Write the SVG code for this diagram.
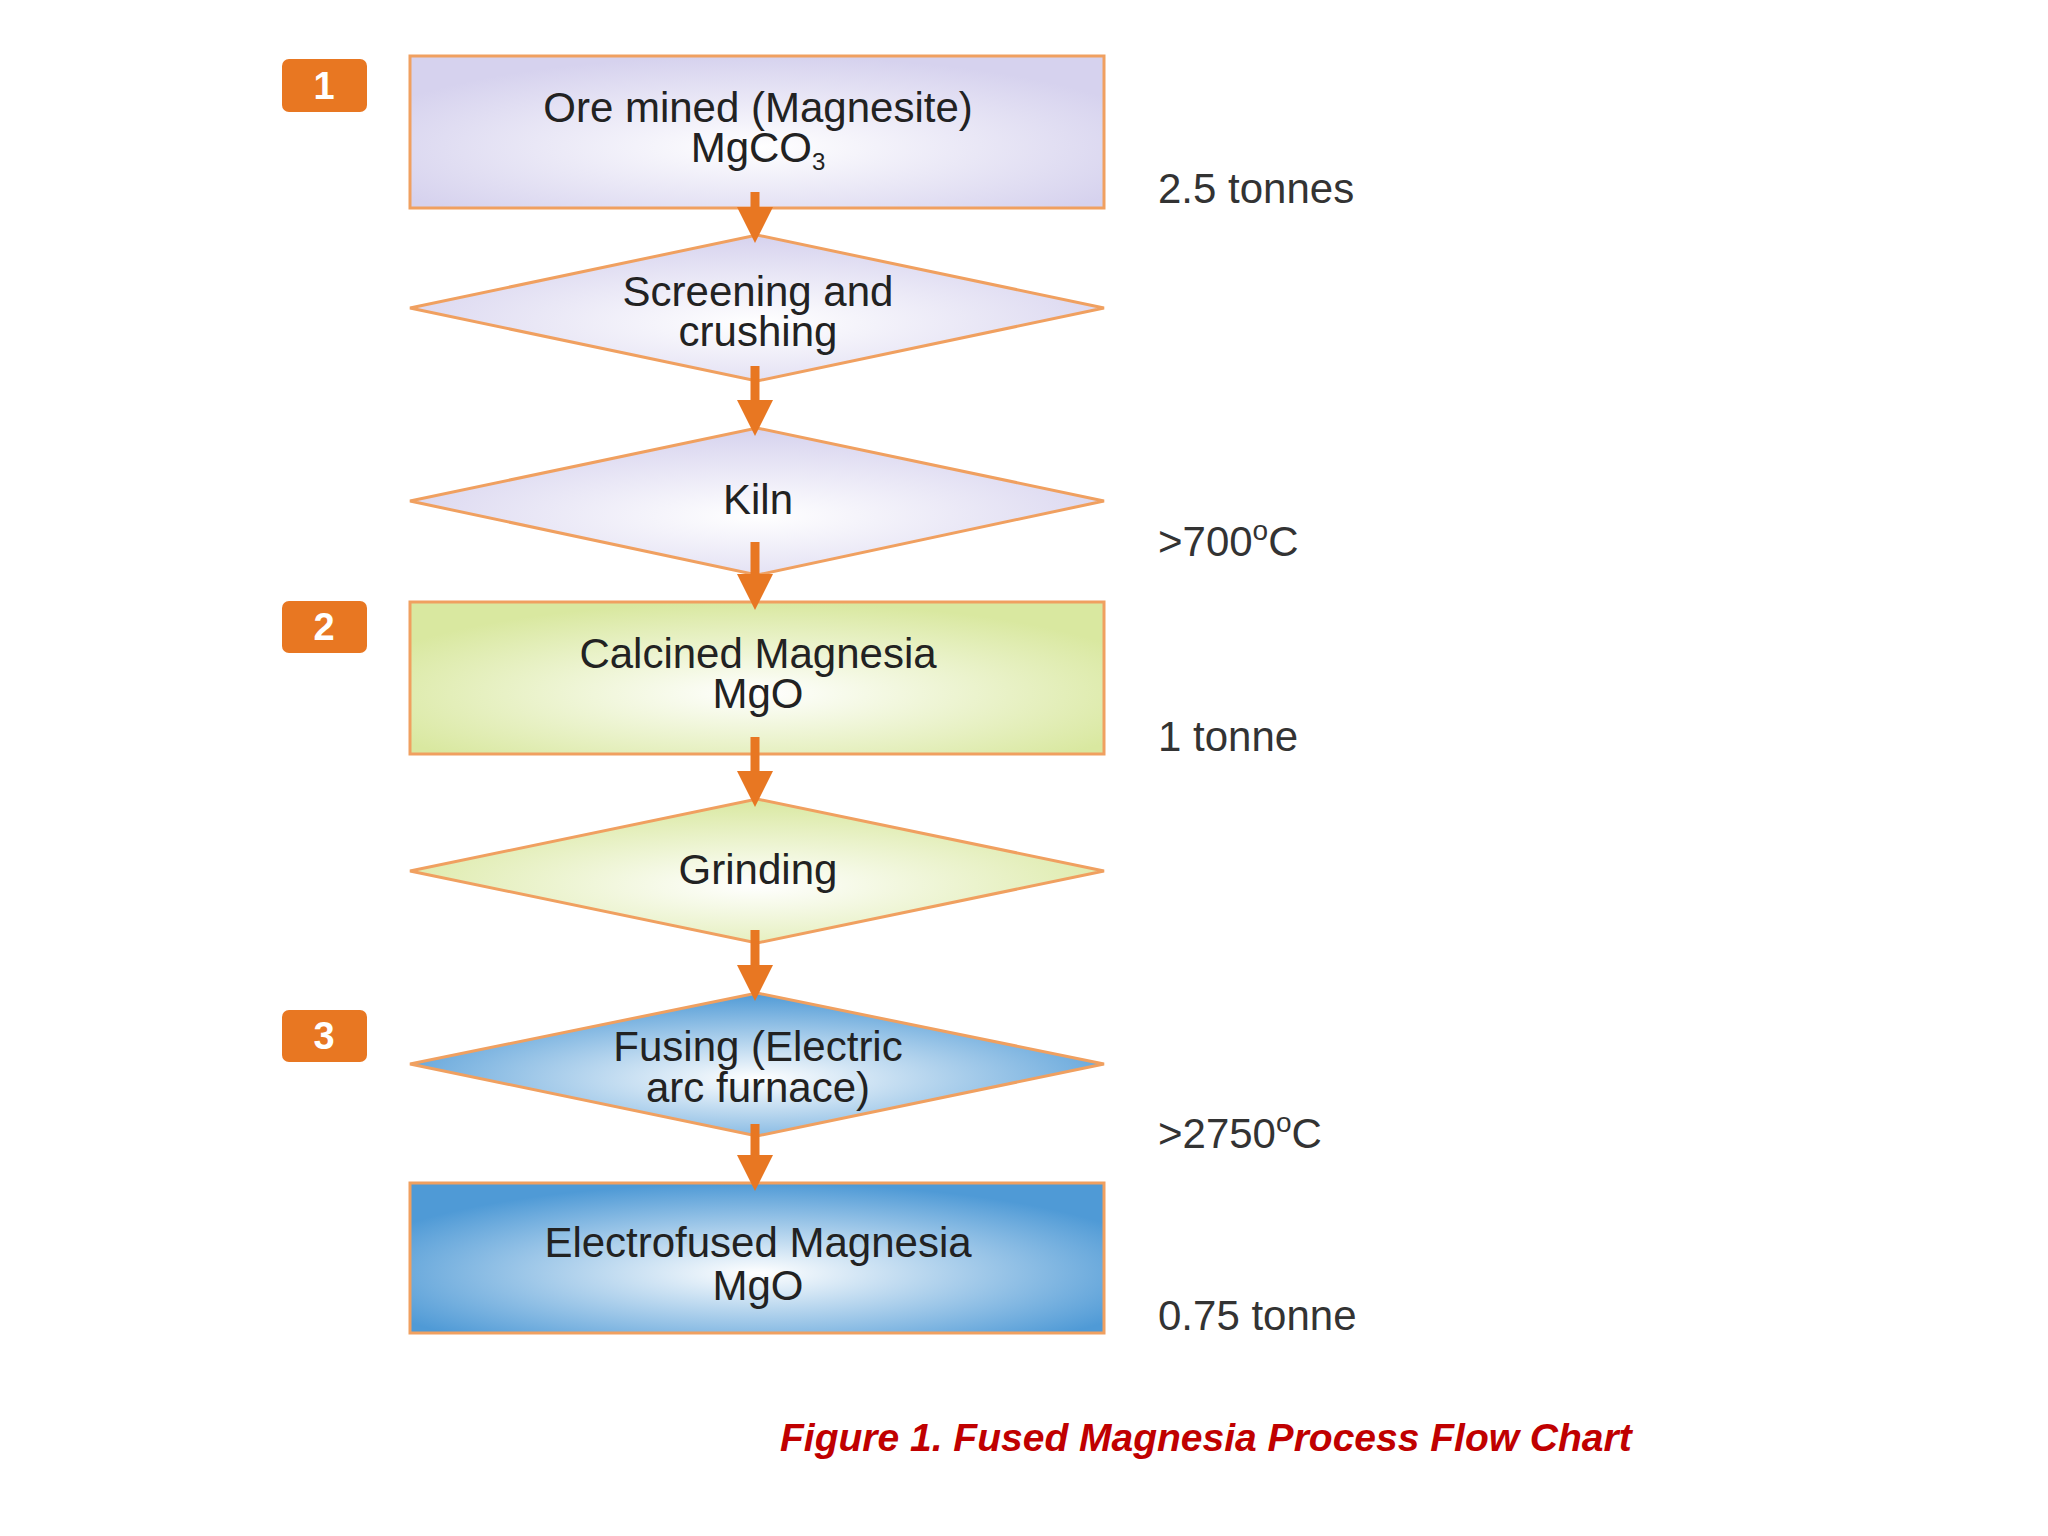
<svg xmlns="http://www.w3.org/2000/svg" width="2048" height="1536" viewBox="0 0 2048 1536">
<defs>
<radialGradient id="gP" cx="50%" cy="60%" r="60%"><stop offset="0" stop-color="#ffffff"/><stop offset="1" stop-color="#d6d2ee"/></radialGradient>
<radialGradient id="gG" cx="50%" cy="60%" r="60%"><stop offset="0" stop-color="#ffffff"/><stop offset="1" stop-color="#d9e8a0"/></radialGradient>
<radialGradient id="gB" cx="50%" cy="60%" r="60%"><stop offset="0" stop-color="#ffffff"/><stop offset="1" stop-color="#4f9ad6"/></radialGradient>
<marker id="ah" markerWidth="4" markerHeight="4" refX="2" refY="2" orient="auto" markerUnits="strokeWidth"><path d="M0,0 L4,2 L0,4 z" fill="#e87722"/></marker>
</defs>
<style>
.n{stroke:#f0a060;stroke-width:3}
.t{font-family:"Liberation Sans",Arial,sans-serif;font-size:42px;fill:#222;text-anchor:middle}
.r{font-family:"Liberation Sans",Arial,sans-serif;font-size:42px;fill:#333}
.b{fill:#e87722}
.bt{font-family:"Liberation Sans",Arial,sans-serif;font-size:38px;font-weight:bold;fill:#fff;text-anchor:middle}
.c{stroke:#e87722;stroke-width:9;fill:none;marker-end:url(#ah)}
</style>
<rect width="2048" height="1536" fill="#fff"/>
<g id="badge1"><rect class="b" x="282" y="59" width="85" height="53" rx="7"/><text class="bt" x="324" y="99">1</text></g>
<g id="badge2"><rect class="b" x="282" y="601" width="85" height="52" rx="7"/><text class="bt" x="324" y="640">2</text></g>
<g id="badge3"><rect class="b" x="282" y="1010" width="85" height="52" rx="7"/><text class="bt" x="324" y="1049">3</text></g>
<g id="ore"><rect class="n" x="410" y="56" width="694" height="152" fill="url(#gP)"/><text class="t" x="758" y="122">Ore mined (Magnesite)</text><text class="t" x="758" y="162">MgCO<tspan font-size="24" dy="8">3</tspan></text></g>
<g id="screen"><polygon class="n" points="410,308 757,235 1104,308 757,381" fill="url(#gP)"/><text class="t" x="758" y="306">Screening and</text><text class="t" x="758" y="346">crushing</text></g>
<g id="kiln"><polygon class="n" points="410,501 757,428 1104,501 757,575" fill="url(#gP)"/><text class="t" x="758" y="514">Kiln</text></g>
<g id="calcined"><rect class="n" x="410" y="602" width="694" height="152" fill="url(#gG)"/><text class="t" x="758" y="668">Calcined Magnesia</text><text class="t" x="758" y="708">MgO</text></g>
<g id="grinding"><polygon class="n" points="410,871 757,799 1104,871 757,943" fill="url(#gG)"/><text class="t" x="758" y="884">Grinding</text></g>
<g id="fusing"><polygon class="n" points="410,1064 757,993 1104,1064 757,1136" fill="url(#gB)"/><text class="t" x="758" y="1061">Fusing (Electric</text><text class="t" x="758" y="1102">arc furnace)</text></g>
<g id="electro"><rect class="n" x="410" y="1183" width="694" height="150" fill="url(#gB)"/><text class="t" x="758" y="1257">Electrofused Magnesia</text><text class="t" x="758" y="1300">MgO</text></g>
<g id="connectors">
<line class="c" x1="755" y1="192" x2="755" y2="225"/>
<line class="c" x1="755" y1="366" x2="755" y2="418"/>
<line class="c" x1="755" y1="542" x2="755" y2="592"/>
<line class="c" x1="755" y1="737" x2="755" y2="789"/>
<line class="c" x1="755" y1="930" x2="755" y2="983"/>
<line class="c" x1="755" y1="1124" x2="755" y2="1173"/>
</g>
<g id="labels">
<text class="r" x="1158" y="203">2.5 tonnes</text>
<text class="r" x="1158" y="556">&gt;700<tspan font-size="28" dy="-16">o</tspan><tspan dy="16">C</tspan></text>
<text class="r" x="1158" y="751">1 tonne</text>
<text class="r" x="1158" y="1148">&gt;2750<tspan font-size="28" dy="-16">o</tspan><tspan dy="16">C</tspan></text>
<text class="r" x="1158" y="1330">0.75 tonne</text>
<text x="780" y="1451" font-family="Liberation Sans,Arial,sans-serif" font-size="39" font-weight="bold" font-style="italic" fill="#c00000">Figure 1. Fused Magnesia Process Flow Chart</text>
</g>
</svg>
